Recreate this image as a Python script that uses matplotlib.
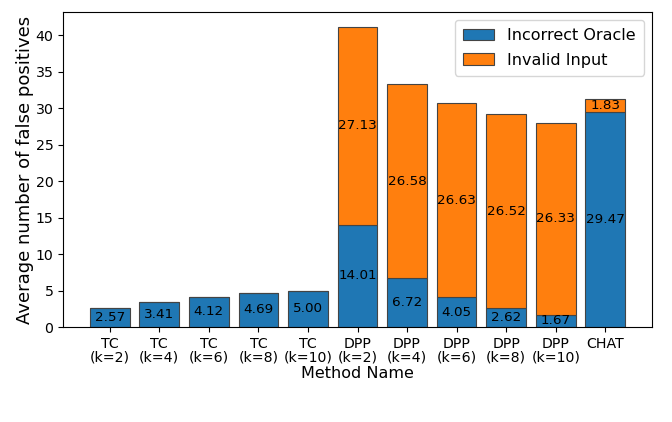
import numpy as np
import matplotlib.pyplot as plt

methods = ["TC\n(k=2)", "TC\n(k=4)", "TC\n(k=6)", "TC\n(k=8)", "TC\n(k=10)",
           "DPP\n(k=2)", "DPP\n(k=4)", "DPP\n(k=6)", "DPP\n(k=8)", "DPP\n(k=10)", "CHAT"]
incorrect_oracle = [2.57, 3.41, 4.12, 4.69, 5.00, 14.01, 6.72, 4.05, 2.62, 1.67, 29.47]
invalid_input = [0, 0, 0, 0, 0, 27.13, 26.58, 26.63, 26.52, 26.33, 1.83]

fig, ax = plt.subplots(figsize=(6.72, 4.22), dpi=100)
x = np.arange(len(methods))
b1 = ax.bar(x, incorrect_oracle, 0.8, color="#1f77b4", edgecolor="#444444",
            linewidth=0.8, label="Incorrect Oracle")
b2 = ax.bar(x, invalid_input, 0.8, bottom=incorrect_oracle, color="#ff7f0e",
            edgecolor="#444444", linewidth=0.8, label="Invalid Input")

# label each stacked segment in its middle, skip the empty ones
ax.bar_label(b1, labels=["%.2f" % v if v > 0 else "" for v in incorrect_oracle],
             label_type="center", fontsize=9.7)
ax.bar_label(b2, labels=["%.2f" % v if v > 0 else "" for v in invalid_input],
             label_type="center", fontsize=9.7)

ax.set_xticks(x)
ax.set_xticklabels(methods, fontsize=10.2, linespacing=1.0)
ax.tick_params(axis="y", labelsize=10.2)
ax.set_xlabel("Method Name", fontsize=11.5, labelpad=1)
ax.set_ylabel("Average number of false positives", fontsize=13, labelpad=1)
ax.legend(fontsize=11.5, loc="upper right", labelspacing=0.6, borderpad=0.5)

fig.subplots_adjust(left=0.094, right=0.970, top=0.9716, bottom=0.2251)
fig.savefig("out.png")
